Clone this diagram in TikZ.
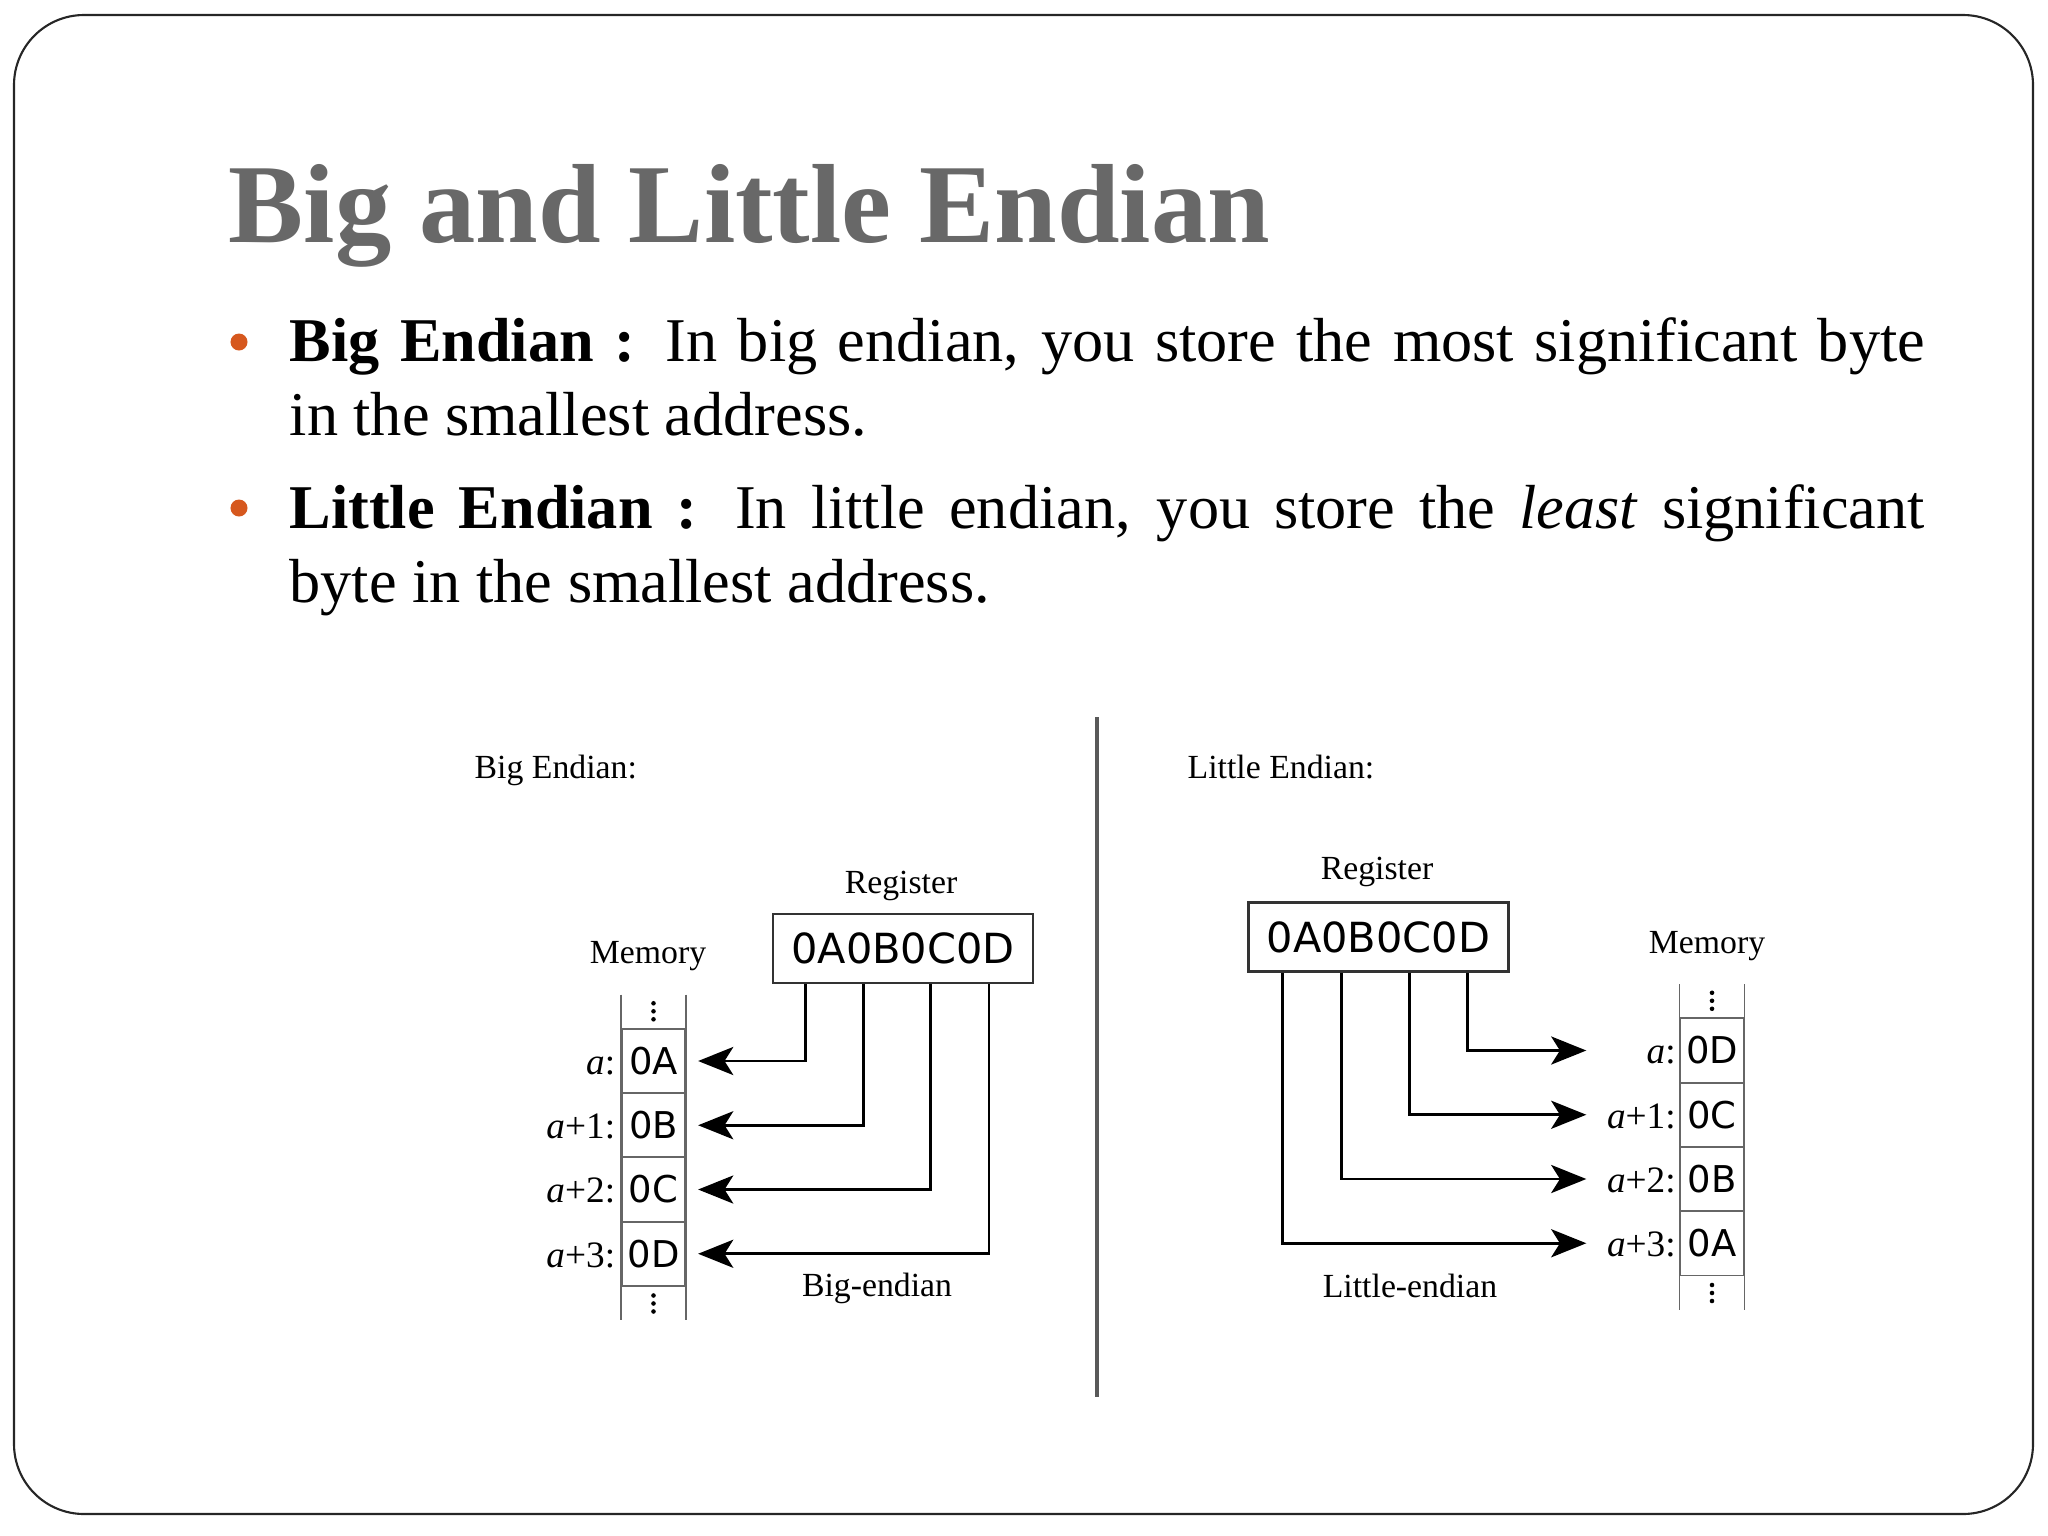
\documentclass[tikz,border=0pt]{standalone}
\usepackage{fontspec}
\setmainfont{Liberation Serif}
\newfontfamily\hexfont{DejaVu Sans}
\usepackage{tikz}
\usetikzlibrary{arrows.meta}
\usetikzlibrary{positioning}
\definecolor{titlegray}{RGB}{104,104,104}
\definecolor{dotorange}{RGB}{214,88,30}
\tikzstyle{cell}=[draw=black!60,line width=0.5pt,minimum width=0.635cm,minimum height=0.6425cm,inner sep=0pt,font=\hexfont\fontsize{10.5}{12}\selectfont]
\tikzstyle{dotcell}=[minimum width=0.635cm,minimum height=0.32cm,inner sep=0pt]
\tikzstyle{colline}=[line width=0.5pt,black!60]
\tikzstyle{register}=[draw=black!80,line width=0.7pt,minimum width=2.6cm,minimum height=0.69cm,inner sep=0pt,font=\hexfont\fontsize{11.8}{14}\selectfont]
\tikzstyle{lbl}=[inner sep=0pt,font=\fontsize{9.6}{11}\selectfont]
\tikzstyle{addr}=[inner sep=0pt,anchor=base east,font=\fontsize{10.6}{12}\selectfont]
\tikzstyle{conn}=[line width=0.75pt,-{Stealth[length=10pt,width=8pt,inset=2.5pt]}]
\tikzstyle{bulletdot}=[circle,fill=dotorange,inner sep=0pt,minimum size=0.17cm]
\tikzstyle{bodytext}=[anchor=base west,inner sep=0pt,font=\fontsize{17.7}{21.3}\selectfont]

\begin{document}
\begin{tikzpicture}[x=0.01cm,y=-0.01cm]
\useasboundingbox (0,0) rectangle (2048,1536);
\draw[line width=0.6pt,black!85,rounded corners=0.7cm] (14,15) rectangle (2033,1514);

% title and bullets
\node[anchor=base west,inner sep=0pt,text=titlegray,font=\bfseries\fontsize{32}{38}\selectfont] (title) at (228,242) {Big and Little Endian};
\node[bulletdot] (dot1) at (239,342) {};
\node[bulletdot] (dot2) at (239,508) {};
\node[bodytext] (bigtxt) at (289,361) {\parbox[t]{465pt}{\textbf{Big Endian :} In big endian, you store the most significant byte\linebreak in the smallest address.}};
\node[bodytext] (littletxt) at (289,528) {\parbox[t]{465pt}{\textbf{Little Endian :} In little endian, you store the \textit{least} significant\linebreak byte in the smallest address.}};

\draw[line width=0.9pt,black!65] (1097,717) -- (1097,1397);

% big endian
\node[lbl,anchor=base west] (bigcap) at (474,778) {Big Endian:};
\node[register] (regL) at (903,948.5) {0A0B0C0D};
\node[lbl,anchor=base] (regLlbl) at (901,893) {Register};
\node[lbl,anchor=base] (memLlbl) at (648,963) {Memory};
\foreach \v [count=\i from 0] in {0A,0B,0C,0D}
  \node[cell] (memL\i) at (653.5,{1061+64.25*\i}) {\v};
\node[dotcell,above=0pt of memL0] (memLtop) {};
\node[dotcell,below=0pt of memL3] (memLbot) {};
\draw[colline] (memLtop.north west) -- (memLbot.south west);
\draw[colline] (memLtop.north east) -- (memLbot.south east);
\foreach \l [count=\i from 0] in {{},+1,+2,+3}
  \node[addr] (adrL\i) at ([xshift=-0.05cm]memL\i.base west) {\textit{a}\l:};
\foreach \s/\i in {0.34cm/0,0.92cm/1,1.59cm/2,2.17cm/3}
  \draw[conn,shorten >=0.12cm] ([xshift=\s]regL.south west) |- (memL\i.east);
\node[lbl,anchor=base] (bignote) at (877,1296) {Big-endian};

% little endian
\node[lbl,anchor=base west] (littlecap) at (1187,778) {Little Endian:};
\node[register] (regR) at (1378.5,937) {0A0B0C0D};
\node[lbl,anchor=base] (regRlbl) at (1377,879) {Register};
\node[lbl,anchor=base] (memRlbl) at (1707,953) {Memory};
\foreach \v [count=\i from 0] in {0D,0C,0B,0A}
  \node[cell] (memR\i) at (1712,{1050.5+64.25*\i}) {\v};
\node[dotcell,above=0pt of memR0] (memRtop) {};
\node[dotcell,below=0pt of memR3] (memRbot) {};
\draw[colline] (memRtop.north west) -- (memRbot.south west);
\draw[colline] (memRtop.north east) -- (memRbot.south east);
\foreach \l [count=\i from 0] in {{},+1,+2,+3}
  \node[addr] (adrR\i) at ([xshift=-0.03cm]memR\i.base west) {\textit{a}\l:};
\foreach \s/\i in {2.20cm/0,1.62cm/1,0.94cm/2,0.35cm/3}
  \draw[conn,shorten >=0.93cm] ([xshift=\s]regR.south west) |- (memR\i.west);
\node[lbl,anchor=base] (littlenote) at (1410,1297) {Little-endian};

% dots in the memory columns
\foreach \n in {memLtop,memLbot,memRtop,memRbot}
  \foreach \d in {-8,0,8}
    \fill (\n.center) +(0,\d) circle (0.65pt);
\end{tikzpicture}
\end{document}
